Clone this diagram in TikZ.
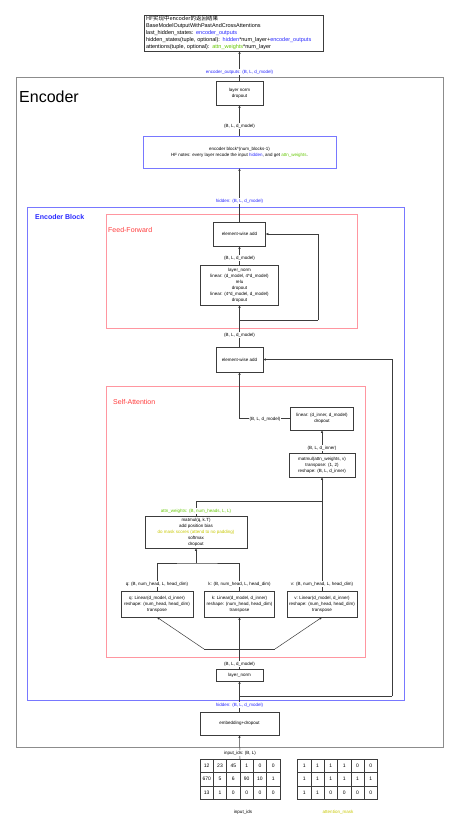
\documentclass[tikz,border=0pt]{standalone}
\usepackage{fontspec}
\setmainfont{Liberation Sans}
\newfontfamily\cjk{Noto Sans CJK SC}
\usetikzlibrary{arrows.meta,matrix}
\definecolor{tblue}{RGB}{40,40,255}
\definecolor{bblue}{RGB}{120,120,255}
\definecolor{tred}{RGB}{255,60,60}
\definecolor{bred}{RGB}{255,150,160}
\definecolor{tgreen}{RGB}{100,200,0}
\definecolor{tyellow}{RGB}{200,200,0}
\definecolor{egray}{RGB}{140,140,140}
\definecolor{lgray}{RGB}{60,60,60}
\begin{document}
\begin{tikzpicture}[x=1pt,y=-1pt,
 box/.style={draw=lgray, fill=white, line width=0.5pt, align=center, inner sep=0pt, font=\fontsize{4.5}{6}\selectfont},
 lbl/.style={fill=white, inner sep=0.5pt, font=\fontsize{4.5}{5}\selectfont},
 conn/.style={draw=lgray, line width=0.5pt, -{Triangle[length=2.5pt,width=2pt]}},
 wire/.style={draw=lgray, line width=0.5pt},
 cell/.style={draw=lgray, line width=0.5pt, minimum width=13.33pt, minimum height=13.33pt, inner sep=0pt, anchor=center, font=\fontsize{5}{5}\selectfont},
 tbl/.style={matrix of nodes, inner sep=0pt, outer sep=0pt, column sep=-0.5pt, row sep=-0.5pt, nodes={cell}},
 cont/.style={line width=0.7pt},
]
\useasboundingbox (0,0) rectangle (474,833);
\fill[white] (0,0) rectangle (474,833);

% containers
\draw[egray, line width=1pt] (16,77) rectangle (443,747);
\node[anchor=west, inner sep=0pt, font=\fontsize{16}{16}\selectfont] (enct) at (19,97) {Encoder};
\draw[bblue, cont] (27,207) rectangle (404,700);
\node[anchor=west, inner sep=0pt, text=tblue, font=\bfseries\fontsize{7}{7}\selectfont] (ebt) at (35,217) {Encoder Block};
\draw[bred, cont] (106,214) rectangle (357,328);
\node[anchor=west, inner sep=0pt, text=tred, font=\fontsize{7}{7}\selectfont] (fft) at (108,230) {Feed-Forward};
\draw[bred, cont] (106,386) rectangle (365,657);
\node[anchor=west, inner sep=0pt, text=tred, font=\fontsize{7}{7}\selectfont] (sat) at (113,402) {Self-Attention};

% boxes
\node[box, minimum width=179pt, minimum height=36pt, text width=175pt, align=left, font=\fontsize{5.5}{7}\selectfont] (top) at (233.5,33) {{\cjk HF实现中encoder的返回结果}\\BaseModelOutputWithPastAndCrossAttentions\\last\_hidden\_states: \textcolor{tblue}{encoder\_outputs}\\hidden\_states(tuple, optional): \textcolor{tblue}{hidden}*num\_layer+\textcolor{tblue}{encoder\_outputs}\\attentions(tuple, optional): \textcolor{tgreen}{attn\_weights}*num\_layer};
\node[box, minimum width=47pt, minimum height=24pt] (ln) at (239.5,93) {layer norm\\dropout};
\node[box, draw=bblue, minimum width=193pt, minimum height=32pt] (eb) at (239.5,152) {encoder block*(num\_blocks-1)\\HF notes: every layer recode the input \textcolor{tblue}{hidden}, and get \textcolor{tgreen}{attn\_weights}.};
\node[box, minimum width=52pt, minimum height=24pt] (ffadd) at (239.5,234) {element-wise add};
\node[box, minimum width=78pt, minimum height=40pt] (ff) at (239.5,285) {layer\_norm\\linear: (d\_model, 4*d\_model)\\relu\\dropout\\linear: (4*d\_model, d\_model)\\dropout};
\node[box, minimum width=47pt, minimum height=25pt] (saadd) at (239.5,359.5) {element-wise add};
\node[box, minimum width=63pt, minimum height=23pt] (lin) at (322,418.5) {linear: (d\_inner, d\_model)\\dropout};
\node[box, minimum width=66pt, minimum height=24pt] (mav) at (322,465) {matmul(attn\_weights, v)\\transpose: (1, 2)\\reshape: (B, L, d\_inner)};
\node[box, minimum width=102pt, minimum height=32pt] (mqk) at (196,532) {matmul(q, k.T)\\add position bias\\\textcolor{tyellow}{do mask scores (attend to no padding)}\\softmax\\dropout};
\node[box, minimum width=72pt, minimum height=26pt] (q) at (157,604) {q: Linear(d\_model, d\_inner)\\reshape: (num\_head, head\_dim)\\transpose};
\node[box, minimum width=70pt, minimum height=26pt] (k) at (239.5,604) {k: Linear(d\_model, d\_inner)\\reshape: (num\_head, head\_dim)\\transpose};
\node[box, minimum width=70pt, minimum height=26pt] (v) at (322,604) {v: Linear(d\_model, d\_inner)\\reshape: (num\_head, head\_dim)\\transpose};
\node[box, minimum width=47pt, minimum height=12pt] (lnorm) at (239.5,675) {layer\_norm};
\node[box, minimum width=79pt, minimum height=23pt] (emb) at (239.5,723.5) {embedding+dropout};

% tables
\matrix (ids) [tbl, anchor=north] at (240,759) {12 & 23 & 45 & 1 & 0 & 0\\ 670 & 5 & 6 & 90 & 10 & 1\\ 13 & 1 & 0 & 0 & 0 & 0\\};
\matrix (mask) [tbl, anchor=north] at (337.5,759) {1 & 1 & 1 & 1 & 0 & 0\\ 1 & 1 & 1 & 1 & 1 & 1\\ 1 & 1 & 0 & 0 & 0 & 0\\};
\node[inner sep=0pt, font=\fontsize{4.5}{5}\selectfont] (idsl) at (243,812) {input\_ids};
\node[inner sep=0pt, text=tyellow, font=\fontsize{4.5}{5}\selectfont] (maskl) at (338,812) {attention\_mask};

% coordinates
\coordinate (f1) at (239.5,320);
\coordinate (f2) at (318,320);
\coordinate (r1) at (239.5,696);
\coordinate (r2) at (392,696);
\coordinate (j1) at (322,501);
\coordinate (qkm) at (196,563);
\coordinate (fanL) at (204,649);
\coordinate (fanR) at (275,649);

% connectors
\draw[conn] (ids.north) -- (emb.south);
\draw[conn] (emb.north) -- (lnorm.south);
\draw[wire] (r1) -- (r2);
\draw[conn] (r2) |- (saadd.east);
\draw[conn] (lnorm.north) -- (k.south);
\draw[wire] (fanL) -- (fanR);
\draw[conn] (fanL) -- (q.south);
\draw[conn] (fanR) -- (v.south);
\draw[wire] (q.north) |- (qkm) -| (k.north);
\draw[conn] (qkm) -- (mqk.south);
\draw[wire] (mqk.north) |- (j1);
\draw[conn] (v.north) -- (mav.south);
\draw[conn] (mav.north) -- (lin.south);
\draw[conn] (lin.west) -| (saadd.south);
\draw[conn] (saadd.north) -- (ff.south);
\draw[wire] (f1) -- (f2);
\draw[conn] (f2) |- (ffadd.east);
\draw[conn] (ff.north) -- (ffadd.south);
\draw[conn] (ffadd.north) -- (eb.south);
\draw[conn] (eb.north) -- (ln.south);
\draw[conn] (ln.north) -- (ln.north |- top.south);

% labels
\node[lbl, text=tblue] (l1) at (239.5,72) {encoder\_outputs: (B, L, d\_model)};
\node[lbl] (l2) at (239.5,126) {(B, L, d\_model)};
\node[lbl, text=tblue] (l3) at (239.5,201) {hidden: (B, L, d\_model)};
\node[lbl] (l4) at (239.5,258) {(B, L, d\_model)};
\node[lbl] (l5) at (239.5,335) {(B, L, d\_model)};
\node[lbl] (l6) at (265,419) {(B, L, d\_model)};
\node[lbl] (l7) at (322,448) {(B, L, d\_inner)};
\node[lbl, text=tgreen] (l8) at (196,511) {attn\_weights: (B, num\_heads, L, L)};
\node[lbl] (l9) at (157,584) {q: (B, num\_head, L, head\_dim)};
\node[lbl] (l10) at (239.5,584) {k: (B, num\_head, L, head\_dim)};
\node[lbl] (l11) at (322,584) {v: (B, num\_head, L, head\_dim)};
\node[lbl] (l12) at (239.5,664) {(B, L, d\_model)};
\node[lbl, text=tblue] (l13) at (239.5,705) {hidden: (B, L, d\_model)};
\node[lbl] (l14) at (240,753) {input\_ids: (B, L)};
\end{tikzpicture}
\end{document}
